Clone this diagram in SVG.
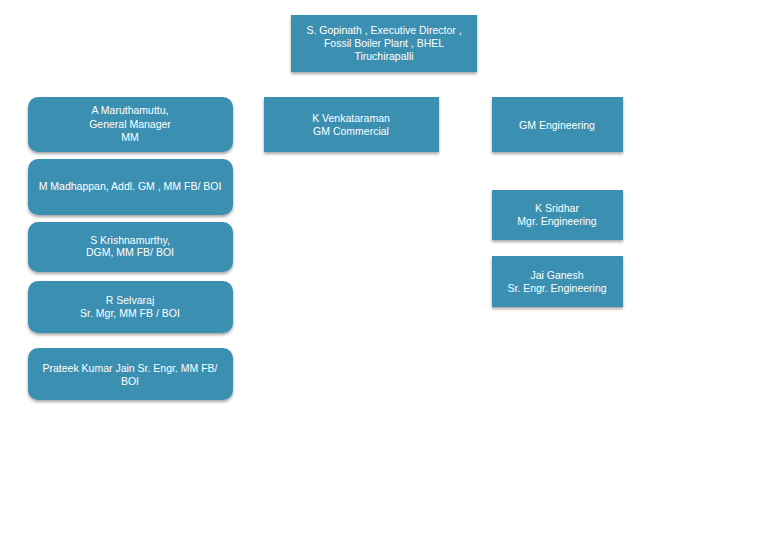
<svg xmlns="http://www.w3.org/2000/svg" width="768" height="543" viewBox="0 0 768 543">
<defs>
<filter id="sh" x="-10%" y="-10%" width="130%" height="140%"><feDropShadow dx="0" dy="2" stdDeviation="1.5" flood-color="#000" flood-opacity="0.35"/></filter>
</defs>
<style>
.b{fill:#3a8fb1;filter:url(#sh)}
text{font-family:"Liberation Sans",Arial,sans-serif;font-size:10.5px;fill:#fff;text-anchor:middle}
</style>
<rect width="768" height="543" fill="#fff"/>
<g id="connectors"/>
<g id="n0"><rect class="b" x="291" y="15" width="186" height="57"/><text x="384" y="34">S. Gopinath , Executive Director ,</text><text x="384" y="47">Fossil Boiler Plant , BHEL</text><text x="384" y="60">Tiruchirapalli</text></g>
<g id="n1"><rect class="b" x="28" y="97" width="205" height="55" rx="10"/><text x="130" y="114">A Maruthamuttu,</text><text x="130" y="128">General Manager</text><text x="130" y="141">MM</text></g>
<g id="n2"><rect class="b" x="28" y="159" width="205" height="56" rx="10"/><text x="130" y="190">M Madhappan, Addl. GM , MM FB/ BOI</text></g>
<g id="n3"><rect class="b" x="28" y="222" width="205" height="50" rx="10"/><text x="130" y="244">S Krishnamurthy,</text><text x="130" y="256">DGM, MM FB/ BOI</text></g>
<g id="n4"><rect class="b" x="28" y="281" width="205" height="52" rx="10"/><text x="130" y="304">R Selvaraj</text><text x="130" y="317">Sr. Mgr, MM FB / BOI</text></g>
<g id="n5"><rect class="b" x="28" y="348" width="205" height="52" rx="10"/><text x="130" y="372">Prateek Kumar Jain  Sr. Engr. MM FB/</text><text x="130" y="385">BOI</text></g>
<g id="n6"><rect class="b" x="264" y="97" width="175" height="55"/><text x="351" y="122">K Venkataraman</text><text x="351" y="135">GM Commercial</text></g>
<g id="n7"><rect class="b" x="492" y="97" width="131" height="55"/><text x="557" y="129">GM Engineering</text></g>
<g id="n8"><rect class="b" x="492" y="190" width="131" height="50"/><text x="557" y="212">K Sridhar</text><text x="557" y="225">Mgr. Engineering</text></g>
<g id="n9"><rect class="b" x="492" y="256" width="131" height="51"/><text x="557" y="279">Jai Ganesh</text><text x="557" y="292">Sr. Engr. Engineering</text></g>
</svg>
